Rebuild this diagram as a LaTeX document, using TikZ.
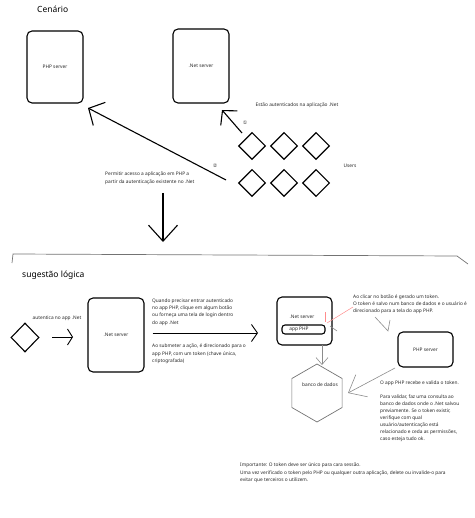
\documentclass[tikz,border=0pt]{standalone}
\usepackage{fontspec}
\setmainfont{Noto Sans}
\newfontfamily\dvs{DejaVu Sans}
\usetikzlibrary{arrows.meta,shapes.geometric}
\begin{document}
\begin{tikzpicture}[x=1pt,y=-1pt,
  ttl/.style={font=\fontsize{8.5}{10}\selectfont\bfseries, inner sep=0pt, anchor=west},
  txt/.style={font=\fontsize{4.8}{6.3}\selectfont, inner sep=0pt, align=left, anchor=north west, text=black!85},
  lbl/.style={font=\fontsize{4.8}{6}\selectfont, inner sep=0pt, text=black!85},
  srv/.style={draw, line width=1.1pt, rounded corners=5pt, font=\fontsize{4.8}{6}\selectfont, text=black!85},
  user/.style={draw, diamond, line width=1.1pt, minimum width=27pt, minimum height=27pt, inner sep=0pt},
  big/.style={line width=1.1pt, -{Straight Barb[length=12pt,width=26pt,line width=1.1pt]}},
  small/.style={line width=0.9pt, -{Straight Barb[length=5pt,width=16pt,line width=0.9pt]}},
  grayarr/.style={draw=black!45, line width=0.6pt, -{Straight Barb[length=7pt,width=12pt,line width=0.6pt]}},
  grayln/.style={draw=black!45, line width=0.6pt}
]
\useasboundingbox (0,0) rectangle (474,518);

% ---------- Cenario ----------
\node[ttl] (t1) at (37,9.5) {Cenário};
\node[srv, minimum width=56pt, minimum height=72pt] (php) at (55,67) {PHP server};
\node[srv, minimum width=56pt, minimum height=74pt] (net) at (201,66) {.Net server};

\node[user] (u1) at (252,146) {};
\node[user] (u2) at (284,146) {};
\node[user] (u3) at (316,146) {};
\node[user] (u4) at (252,183) {};
\node[user] (u5) at (284,183) {};
\node[user] (u6) at (316,183) {};
\node[lbl] (users) at (350,166) {Users};

\node[lbl] (auth) at (297,105) {Estão autenticados na aplicação .Net};
\node[lbl, font=\dvs\fontsize{5}{6}\selectfont] (n1) at (245,123) {①};
\node[lbl, font=\dvs\fontsize{5}{6}\selectfont] (n2) at (215,166) {②};

\coordinate (a1s) at (242,133);
\coordinate (a1e) at (222,110);
\draw[big, -{Straight Barb[length=10pt,width=22pt,line width=1.1pt]}] (a1s) -- (a1e);

\coordinate (a2s) at (226,180);
\coordinate (a2e) at (88,108);
\draw[big] (a2s) -- (a2e);

\node[txt, font=\fontsize{4.8}{8}\selectfont] (perm) at (105,171.5) {Permitir acesso a aplicação em PHP a\\partir da autenticação existente no .Net};

\coordinate (a3s) at (163,193);
\coordinate (a3e) at (163,242);
\draw[big, -{Straight Barb[length=16pt,width=29pt,line width=1.1pt]}] (a3s) -- (a3e);

% separator
\coordinate (s1) at (12,263);
\coordinate (s2) at (13,254);
\coordinate (s3) at (457,256);
\coordinate (s4) at (468,264);
\draw[draw=black!55, line width=0.7pt] (s1) -- (s2) -- (s3) -- (s4);

% ---------- sugestao logica ----------
\node[ttl] (t2) at (22,275.5) {sugestão lógica};

\node[user, minimum width=28pt, minimum height=29pt] (ub) at (25,337.5) {};
\node[lbl] (autl) at (57,318) {autentica no app .Net};
\coordinate (b1s) at (52,337);
\coordinate (b1e) at (73,337);
\draw[small] (b1s) -- (b1e);

\node[srv, minimum width=56pt, minimum height=74pt] (netl) at (116,335) {.Net server};

\node[txt, font=\fontsize{4.8}{7.3}\selectfont] (quando) at (152,298.5) {Quando precisar entrar autenticado\\no app PHP, clique em algum botão\\ou forneça uma tela de login dentro\\do app .Net};
\draw[small, -{Straight Barb[length=6pt,width=17pt,line width=0.9pt]}] (netl.east |- 0,333) ++(8,0) coordinate (b2s) -- (258,333) coordinate (b2e);
\node[txt, font=\fontsize{4.8}{7.5}\selectfont] (sub) at (152,344) {Ao submeter a ação, é direcionado para o\\app PHP, com um token (chave única,\\criptografada)};

\node[srv, minimum width=55pt, minimum height=48pt, text depth=0pt] (netr) at (304.5,321) {};
\node[lbl] (netrt) at (302,317) {.Net server};
\node[draw, line width=1.1pt, rounded corners=3pt, minimum width=43pt, minimum height=9pt, inner sep=0pt] (app) at (303.5,329.5) {};
\node[lbl] (appt) at (299,329.5) {app PHP};

% pink annotation lines
\coordinate (r1) at (325,312);
\coordinate (r2) at (325,322);
\coordinate (r3) at (327,323);
\coordinate (r4) at (353,307);
\draw[draw=red!45, line width=0.5pt] (r1) -- (r2);
\draw[draw=red!45, line width=0.5pt] (r3) -- (r4);
\coordinate (g1) at (330,326);
\coordinate (g2) at (337,331);
\draw[grayln] (g1) -- (g2);

\node[txt, font=\fontsize{4.8}{7.2}\selectfont] (clic) at (353,294.5) {Ao clicar no botão é gerado um token.\\O token é salvo num banco de dados e o usuário é\\direcionado para a tela do app PHP.};

% gray arrowhead towards PHP server
\coordinate (h1) at (375,317);
\coordinate (h2) at (388,331);
\coordinate (h3) at (390,320);
\draw[grayln] (h1) -- (h2) -- (h3);

\node[srv, minimum width=55pt, minimum height=35pt] (phpr) at (425.5,349.5) {PHP server};

\node[draw=black!55, line width=0.7pt, regular polygon, regular polygon sides=6, shape border rotate=30, minimum size=58pt, inner sep=0pt] (db) at (317,393) {};
\node[lbl] (dbt) at (320,385) {banco de dados};

\coordinate (c1s) at (322,345);
\coordinate (c1e) at (322,365);
\draw[grayarr] (c1s) -- (c1e);

\coordinate (c2s) at (395,368);
\coordinate (c2e) at (348,393);
\draw[grayarr, -{Straight Barb[length=15pt,width=25pt,line width=0.6pt]}] (c2s) -- (c2e);

\node[txt] (rec) at (380,380.5) {O app PHP recebe e valida o token.};
\node[txt, font=\fontsize{4.8}{7.1}\selectfont] (val) at (380,394.5) {Para validar, faz uma consulta ao\\banco de dados onde o .Net salvou\\previamente. Se o token existir,\\verifique com qual\\usuário/autenticação está\\relacionado e ceda as permissões,\\caso esteja tudo ok.};

\node[txt, font=\fontsize{4.8}{7.8}\selectfont] (imp) at (240,462.5) {Importante: O token deve ser único para cara sessão.\\Uma vez verificado o token pelo PHP ou qualquer outra aplicação, delete ou invalide-o para\\evitar que terceiros o utilizem.};
\end{tikzpicture}
\end{document}
